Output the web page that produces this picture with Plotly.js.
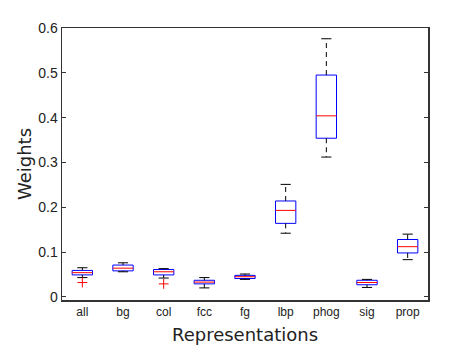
<!DOCTYPE html>
<html>
<head>
<meta charset="utf-8">
<script src="https://cdn.plot.ly/plotly-3.0.1.min.js"></script>
<style>html,body{margin:0;padding:0;background:#fff;}#chart{width:474px;height:355px;}</style>
</head>
<body>
<div id="chart"></div>
<script>
var categories = ['all','bg','col','fcc','fg','lbp','phog','sig','prop'];
var upperWhisker = [0.065, 0.076, 0.063, 0.043, 0.051, 0.251, 0.576, 0.039, 0.140];
var q3Values     = [0.059, 0.071, 0.061, 0.037, 0.048, 0.214, 0.495, 0.037, 0.128];
var medians      = [0.054, 0.064, 0.056, 0.033, 0.045, 0.193, 0.404, 0.032, 0.112];
var q1Values     = [0.049, 0.058, 0.049, 0.029, 0.041, 0.164, 0.354, 0.027, 0.098];
var lowerWhisker = [0.043, 0.056, 0.042, 0.020, 0.039, 0.142, 0.312, 0.021, 0.083];
var outlierCats  = ['all','col'];
var outlierVals  = [0.032, 0.029];

var xs = categories.map(function(c,i){return i+1;});
var boxHalf = 0.25, capHalf = 0.125;

var traces = [];
// box outlines
var bx=[], by=[];
xs.forEach(function(x,i){
  bx.push(x-boxHalf,x+boxHalf,x+boxHalf,x-boxHalf,x-boxHalf,null);
  by.push(q1Values[i],q1Values[i],q3Values[i],q3Values[i],q1Values[i],null);
});
traces.push({type:'scatter',mode:'lines',x:bx,y:by,line:{color:'#0000ff',width:1},hoverinfo:'skip',showlegend:false});
// whiskers (dashed)
var wx=[], wy=[];
xs.forEach(function(x,i){
  wx.push(x,x,null,x,x,null);
  wy.push(q3Values[i],upperWhisker[i],null,q1Values[i],lowerWhisker[i],null);
});
traces.push({type:'scatter',mode:'lines',x:wx,y:wy,line:{color:'#000',width:1,dash:'5px,4px'},hoverinfo:'skip',showlegend:false});
// caps
var cx=[], cy=[];
xs.forEach(function(x,i){
  cx.push(x-capHalf,x+capHalf,null,x-capHalf,x+capHalf,null);
  cy.push(upperWhisker[i],upperWhisker[i],null,lowerWhisker[i],lowerWhisker[i],null);
});
traces.push({type:'scatter',mode:'lines',x:cx,y:cy,line:{color:'#000',width:1},hoverinfo:'skip',showlegend:false});
// medians
var mx=[], my=[];
xs.forEach(function(x,i){
  mx.push(x-boxHalf,x+boxHalf,null);
  my.push(medians[i],medians[i],null);
});
traces.push({type:'scatter',mode:'lines',x:mx,y:my,line:{color:'#ff0000',width:1},hoverinfo:'skip',showlegend:false});
// outliers
traces.push({type:'scatter',mode:'markers',
  x: outlierCats.map(function(c){return categories.indexOf(c)+1;}), y: outlierVals,
  marker:{symbol:'cross-thin',size:7,line:{color:'#ff0000',width:1}},hoverinfo:'skip',showlegend:false});

var layout = {
  width:474, height:355,
  margin:{l:62, r:46, t:28, b:55},
  paper_bgcolor:'#fff', plot_bgcolor:'#fff',
  font:{family:'Liberation Sans, Arial, sans-serif', color:'#222'},
  xaxis:{
    range:[0.5,9.5], tickvals:xs, ticktext:categories,
    showgrid:false, zeroline:false, showline:true, mirror:true,
    linecolor:'#333', linewidth:1.5, ticks:'', tickfont:{size:12},
    title:{text:'Representations', font:{size:18, family:'DejaVu Sans, sans-serif'}, standoff:10}
  },
  yaxis:{
    range:[-0.007,0.6], tickvals:[0,0.1,0.2,0.3,0.4,0.5,0.6],
    ticktext:['0','0.1','0.2','0.3','0.4','0.5','0.6'],
    showgrid:false, zeroline:false, showline:true, mirror:'ticks',
    linecolor:'#333', linewidth:1.5, ticks:'inside', ticklen:4, tickcolor:'#333',
    tickfont:{size:14},
    title:{text:'Weights', font:{size:18, family:'DejaVu Sans, sans-serif'}, standoff:2}
  }
};
Plotly.newPlot('chart', traces, layout, {staticPlot:true});
</script>
</body>
</html>
